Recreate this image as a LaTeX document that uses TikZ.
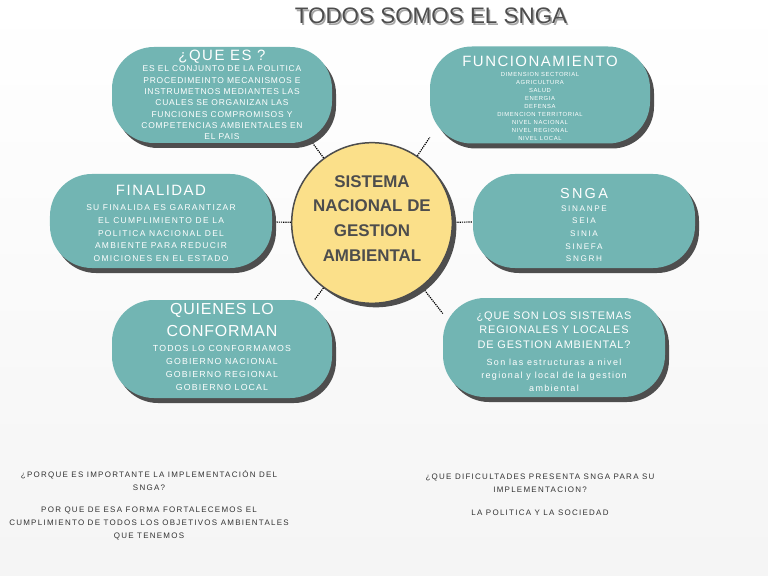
\documentclass[tikz,border=0pt]{standalone}
\usepackage{fontspec}
\setmainfont{Liberation Sans}
\usetikzlibrary{shadows}

\definecolor{teal}{RGB}{114,181,179}
\definecolor{shade}{RGB}{78,78,78}
\definecolor{yel}{RGB}{251,224,138}
\definecolor{ink}{RGB}{77,77,77}
\definecolor{txt}{RGB}{51,51,51}

\newcommand{\ls}[3]{\fontsize{#1}{#2}\selectfont\addfontfeatures{LetterSpace=#3}}
\newcommand{\lift}[1]{\rule{0pt}{#1}}

\pgfdeclarelayer{bg}
\pgfsetlayers{bg,main}

\begin{document}
\begin{tikzpicture}[x=1bp,y=-1bp,
    pill/.style={rectangle,rounded corners=42bp,fill=teal,text=white,align=center,inner sep=0pt,
        general shadow={fill=shade,shadow xshift=4bp,shadow yshift=-5bp}},
    conn/.style={densely dotted,line width=1.2bp,black}]
    \useasboundingbox (0,0) rectangle (768,576);
    \begin{pgfonlayer}{bg}
        \shade[top color=white,bottom color=black!4] (0,0) rectangle (768,576);
    \end{pgfonlayer}
    %
    \node[text=black!35] (titleshadow) at (432.5,17.5) {\ls{22.5}{27}{0}TODOS SOMOS EL SNGA};
    \node[text=ink] (title) at (431,16) {\ls{22.5}{27}{0}TODOS SOMOS EL SNGA};
    %
    \node[circle,fill=yel,draw=ink,line width=1.5bp,minimum size=158bp,text=ink,align=center,
        font=\bfseries\ls{17}{25}{0},text depth=9pt,
        general shadow={fill=shade,shadow xshift=4bp,shadow yshift=-4bp}] (sis) at (372,223)
        {SISTEMA\\NACIONAL DE\\GESTION\\AMBIENTAL};
    %
    \node[pill,minimum width=220bp,minimum height=96bp,font=\ls{8.5}{11.4}{9}] (queEs) at (222,95)
        {{\ls{15}{15}{10}¿QUE ES ?}\\
         ES EL CONJUNTO DE LA POLITICA\\
         PROCEDIMEINTO MECANISMOS E\\
         INSTRUMETNOS MEDIANTES LAS\\
         CUALES SE ORGANIZAN LAS\\
         FUNCIONES COMPROMISOS Y\\
         COMPETENCIAS AMBIENTALES EN\\
         EL PAIS};
    \node[pill,minimum width=220bp,minimum height=97bp,font=\ls{5.9}{8}{10}] (funcion) at (540,95)
        {{\ls{15}{15}{10}\lift{17pt}FUNCIONAMIENTO}\\[2.8pt]
         DIMENSION SECTORIAL\\
         AGRICULTURA\\
         SALUD\\
         ENERGIA\\
         DEFENSA\\
         DIMENCION TERRITORIAL\\
         NIVEL NACIONAL\\
         NIVEL REGIONAL\\
         NIVEL LOCAL};
    \node[pill,minimum width=222bp,minimum height=94bp,font=\ls{8.5}{12.75}{15}] (finalidad) at (161,221)
        {{\ls{15}{15}{10}\lift{15.5pt}FINALIDAD}\\[2.3pt]
         SU FINALIDA ES GARANTIZAR\\
         EL CUMPLIMIENTO DE LA\\
         POLITICA NACIONAL DEL\\
         AMBIENTE PARA REDUCIR\\
         OMICIONES EN EL ESTADO};
    \node[pill,minimum width=222bp,minimum height=94bp,font=\ls{8.2}{12.7}{20}] (snga) at (584,221)
        {{\ls{14.5}{14.5}{16}\lift{18.5pt}SNGA}\\
         SINANPE\\
         SEIA\\
         SINIA\\
         SINEFA\\
         SNGRH};
    \node[pill,minimum width=220bp,minimum height=98bp,font=\ls{8.8}{13.1}{13},text depth=4pt] (quienes) at (222,349)
        {{\ls{16}{16}{5}QUIENES LO}\\[6.9pt]
         {\ls{16}{16}{5}CONFORMAN}\\[1.7pt]
         TODOS LO CONFORMAMOS\\
         GOBIERNO NACIONAL\\
         GOBIERNO REGIONAL\\
         GOBIERNO LOCAL};
    \node[pill,minimum width=222bp,minimum height=99bp,font=\ls{9}{12.8}{15}] (queSon) at (554,347.5)
        {{\ls{11}{11}{7.5}\lift{16pt}¿QUE SON LOS SISTEMAS}\\[1.7pt]
         {\ls{11}{11}{7.5}REGIONALES Y LOCALES}\\[1.7pt]
         {\ls{11}{11}{7.5}DE GESTION AMBIENTAL?}\\[4.7pt]
         Son las estructuras a nivel\\
         regional y local de la gestion\\
         ambiental};
    %
    \begin{pgfonlayer}{bg}
        \draw[conn] (sis) -- (queEs.-28);
        \draw[conn] (sis) -- (funcion.-159);
        \draw[conn] (sis) -- (finalidad);
        \draw[conn] (sis) -- (snga);
        \draw[conn] (sis) -- (quienes.28);
        \draw[conn] (sis) -- (queSon.163);
    \end{pgfonlayer}
    %
    \node[text=txt,align=center,font=\ls{8}{13}{16}] (porque) at (149,505)
        {¿PORQUE ES IMPORTANTE LA IMPLEMENTACIÓN DEL\\
         SNGA?\\[9pt]
         POR QUE DE ESA FORMA FORTALECEMOS EL\\
         CUMPLIMIENTO DE TODOS LOS OBJETIVOS AMBIENTALES\\
         QUE TENEMOS};
    \node[text=txt,align=center,font=\ls{8}{13}{16}] (dificultad) at (540,494.5)
        {¿QUE DIFICULTADES PRESENTA SNGA PARA SU\\
         IMPLEMENTACION?\\[10pt]
         LA POLITICA Y LA SOCIEDAD};
\end{tikzpicture}
\end{document}
